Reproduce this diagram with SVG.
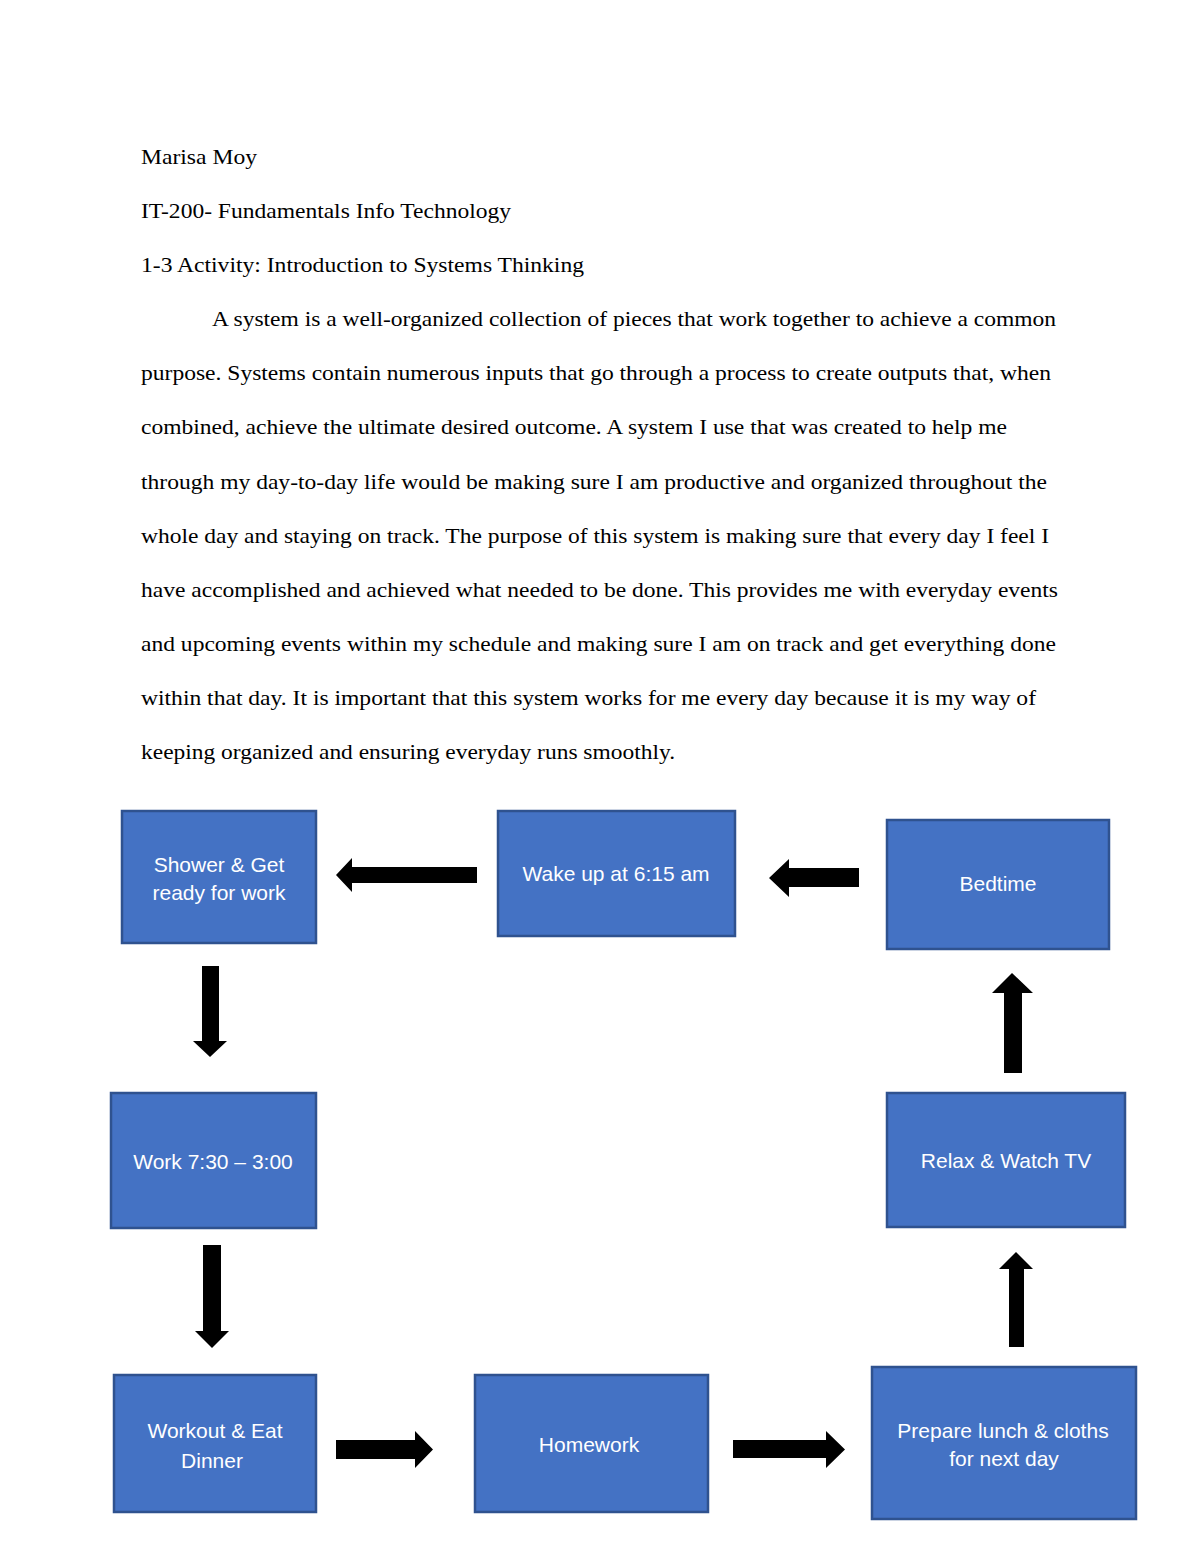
<svg xmlns="http://www.w3.org/2000/svg" width="1200" height="1553" viewBox="0 0 1200 1553">
<style>
.body{font-family:"Liberation Serif","Times New Roman",serif;font-size:22px;fill:#000}
.box{fill:#4472C4;stroke:#2F528F;stroke-width:2.5}
.lbl{font-family:"Liberation Sans",Arial,sans-serif;font-size:21px;fill:#fff;text-anchor:middle}
.arr{fill:#000}
</style>
<rect width="1200" height="1553" fill="#fff"/>
<g id="text">
<text class="body" x="141" y="164" textLength="116" lengthAdjust="spacingAndGlyphs">Marisa Moy</text>
<text class="body" x="141" y="218" textLength="370" lengthAdjust="spacingAndGlyphs">IT-200- Fundamentals Info Technology</text>
<text class="body" x="141" y="272" textLength="443" lengthAdjust="spacingAndGlyphs">1-3 Activity: Introduction to Systems Thinking</text>
<text class="body" x="212" y="326" textLength="844" lengthAdjust="spacingAndGlyphs">A system is a well-organized collection of pieces that work together to achieve a common</text>
<text class="body" x="141" y="380" textLength="910" lengthAdjust="spacingAndGlyphs">purpose. Systems contain numerous inputs that go through a process to create outputs that, when</text>
<text class="body" x="141" y="434" textLength="866" lengthAdjust="spacingAndGlyphs">combined, achieve the ultimate desired outcome. A system I use that was created to help me</text>
<text class="body" x="141" y="489" textLength="906" lengthAdjust="spacingAndGlyphs">through my day-to-day life would be making sure I am productive and organized throughout the</text>
<text class="body" x="141" y="543" textLength="908" lengthAdjust="spacingAndGlyphs">whole day and staying on track. The purpose of this system is making sure that every day I feel I</text>
<text class="body" x="141" y="597" textLength="917" lengthAdjust="spacingAndGlyphs">have accomplished and achieved what needed to be done. This provides me with everyday events</text>
<text class="body" x="141" y="651" textLength="915" lengthAdjust="spacingAndGlyphs">and upcoming events within my schedule and making sure I am on track and get everything done</text>
<text class="body" x="141" y="705" textLength="895" lengthAdjust="spacingAndGlyphs">within that day. It is important that this system works for me every day because it is my way of</text>
<text class="body" x="141" y="759" textLength="534" lengthAdjust="spacingAndGlyphs">keeping organized and ensuring everyday runs smoothly.</text>
</g>
<g id="node-shower">
<rect class="box" x="122" y="811" width="194" height="132"/>
<text class="lbl" x="219" y="872">Shower &amp; Get</text>
<text class="lbl" x="219" y="900">ready for work</text>
</g>
<g id="node-wake">
<rect class="box" x="498" y="811" width="237" height="125"/>
<text class="lbl" x="616" y="881">Wake up at 6:15 am</text>
</g>
<g id="node-bedtime">
<rect class="box" x="887" y="820" width="222" height="129"/>
<text class="lbl" x="998" y="891">Bedtime</text>
</g>
<g id="node-work">
<rect class="box" x="111" y="1093" width="205" height="135"/>
<text class="lbl" x="213" y="1169">Work 7:30 – 3:00</text>
</g>
<g id="node-relax">
<rect class="box" x="887" y="1093" width="238" height="134"/>
<text class="lbl" x="1006" y="1168">Relax &amp; Watch TV</text>
</g>
<g id="node-workout">
<rect class="box" x="114" y="1375" width="202" height="137"/>
<text class="lbl" x="215" y="1438">Workout &amp; Eat</text>
<text class="lbl" x="212" y="1468">Dinner</text>
</g>
<g id="node-homework">
<rect class="box" x="475" y="1375" width="233" height="137"/>
<text class="lbl" x="589" y="1452">Homework</text>
</g>
<g id="node-prepare">
<rect class="box" x="872" y="1367" width="264" height="152"/>
<text class="lbl" x="1003" y="1438">Prepare lunch &amp; cloths</text>
<text class="lbl" x="1004" y="1466">for next day</text>
</g>
<g id="connectors">
<polygon class="arr" points="477,867 352,867 352,858 336,875 352,892 352,883 477,883"/>
<polygon class="arr" points="859,868 789,868 789,859 769,878 789,897 789,887 859,887"/>
<polygon class="arr" points="202,966 219,966 219,1041 227,1041 210,1057 193,1041 202,1041"/>
<polygon class="arr" points="203,1245 221,1245 221,1331 229,1331 212,1348 195,1331 203,1331"/>
<polygon class="arr" points="336,1440 415,1440 415,1431 433,1449.5 415,1468 415,1459 336,1459"/>
<polygon class="arr" points="733,1440 826,1440 826,1431 845,1449.5 826,1468 826,1458 733,1458"/>
<polygon class="arr" points="1009,1347 1009,1269 999,1269 1016,1252 1033,1269 1024,1269 1024,1347"/>
<polygon class="arr" points="1004,1073 1004,993 992,993 1012,973 1033,993 1022,993 1022,1073"/>
</g>
</svg>
